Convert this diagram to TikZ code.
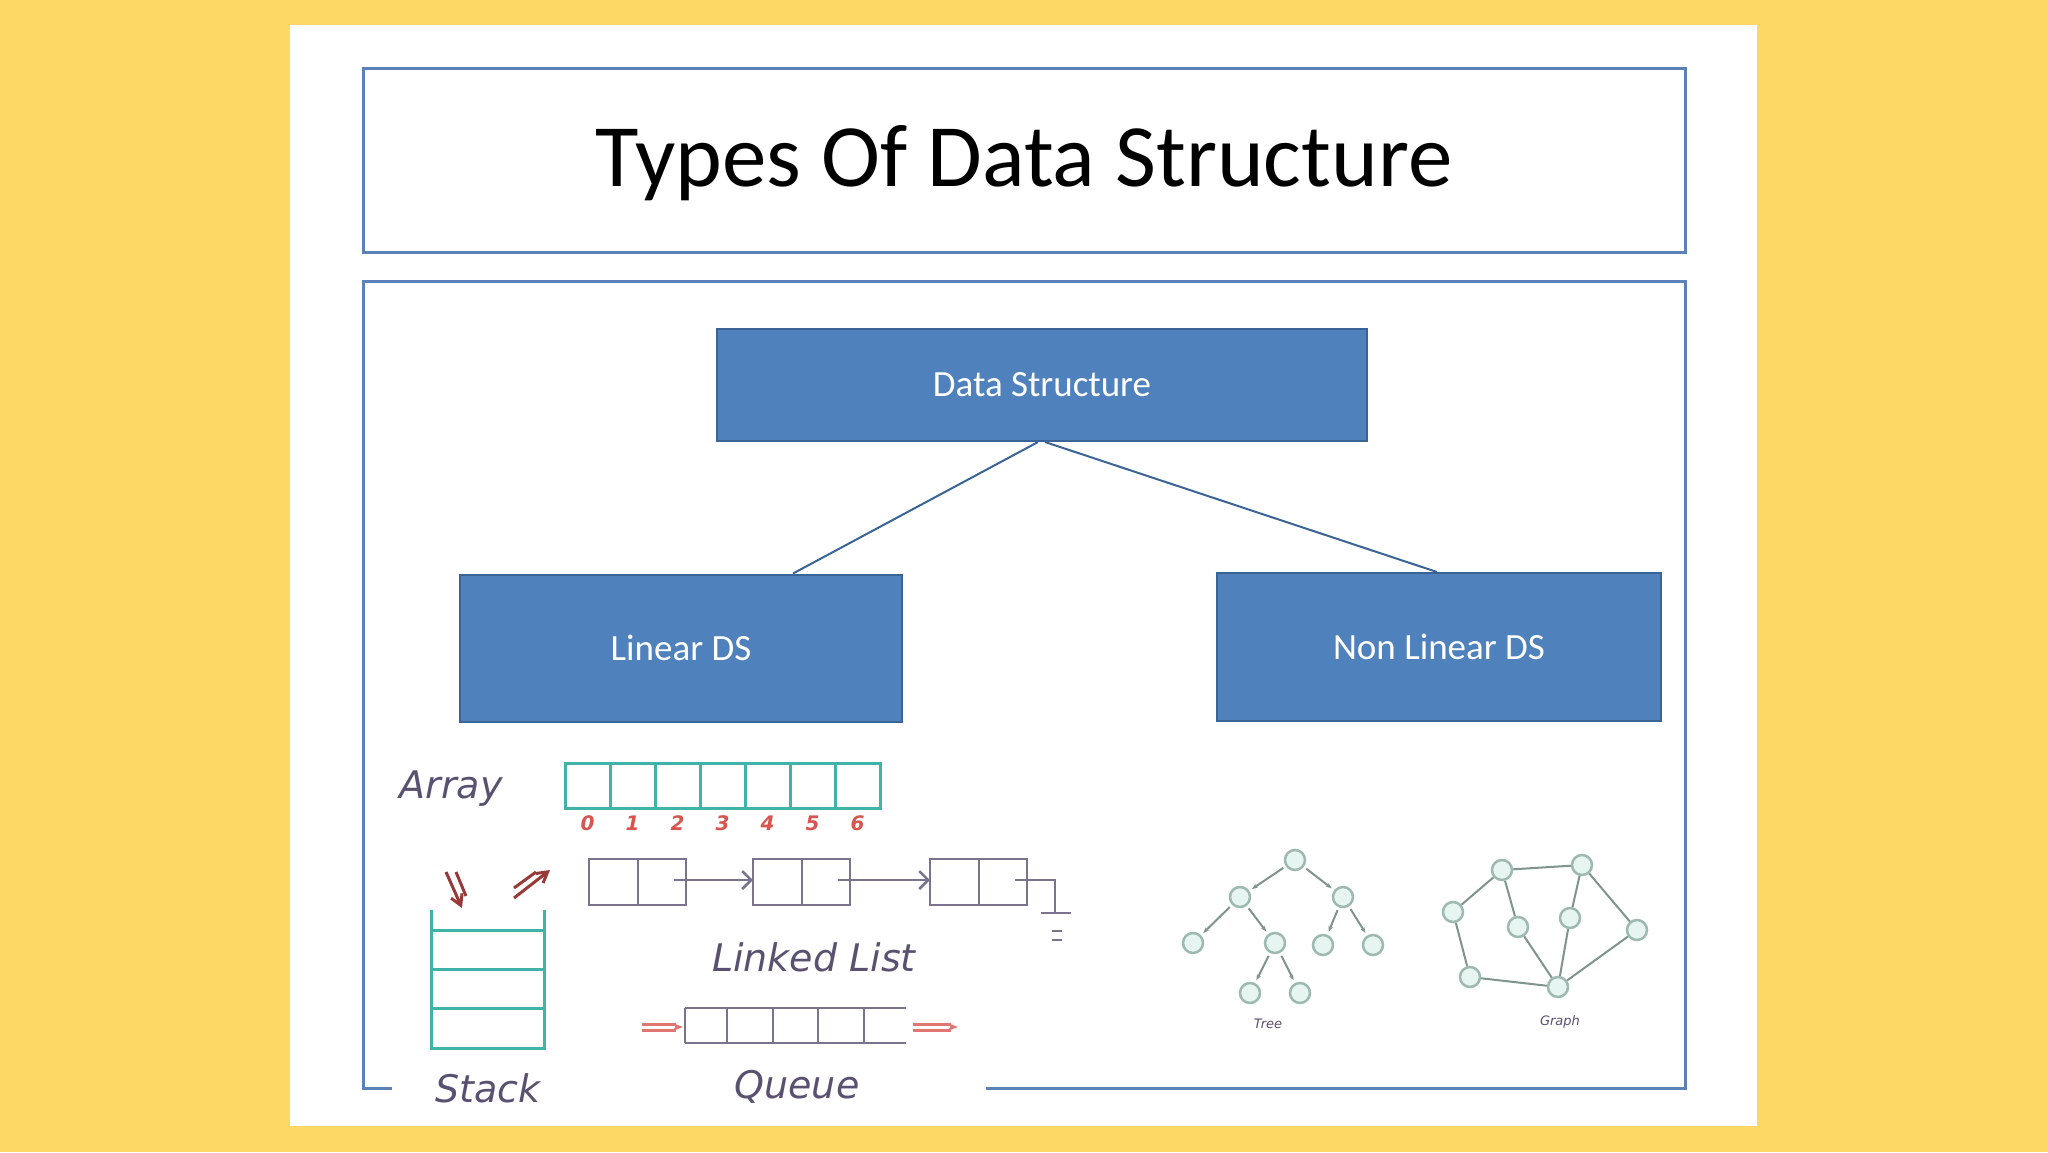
\documentclass[tikz,border=0pt]{standalone}
\usepackage{fontspec}
\setmainfont{Carlito}
\newfontfamily\hand{DejaVu Sans}
\usetikzlibrary{arrows.meta}
\definecolor{bgy}{HTML}{FDD865}
\definecolor{bfill}{HTML}{4F81BD}
\definecolor{bline}{HTML}{3A6496}
\definecolor{frame}{HTML}{5B82B8}
\definecolor{teal}{HTML}{3FB3A8}
\definecolor{ink}{HTML}{5A5070}
\definecolor{redi}{HTML}{D9534F}
\definecolor{nfill}{HTML}{E6F5F1}
\definecolor{nline}{HTML}{9DB9B0}
\tikzset{
 dsbox/.style={draw=bline,fill=bfill,line width=2pt,text=white,font=\fontsize{37}{42}\selectfont},
 hw/.style={text=ink,font=\hand\itshape\fontsize{38}{44}\selectfont},
 idx/.style={text=redi,font=\hand\itshape\bfseries\fontsize{20}{24}\selectfont},
 cn/.style={circle,draw=nline,fill=nfill,line width=2.5pt,minimum size=20pt,inner sep=0pt},
 te/.style={draw=nline!80!black,line width=2pt},
 ta/.style={te,-{Stealth[length=6pt]}},
 sk/.style={draw=ink!80,line width=2.5pt},
 tl/.style={draw=teal,line width=3pt},
 ra/.style={draw=redi!70!black,line width=3pt}
}
\begin{document}
\begin{tikzpicture}[x=1pt,y=-1pt]
\fill[bgy] (0,0) rectangle (2048,1152);
\fill[white] (290,25) rectangle (1757,1126);
\useasboundingbox (0,0) rectangle (2048,1152);
% title
\draw[frame,line width=3pt] (363,68) rectangle (1685,252);
\node (title) at (1024,163) {\fontsize{89}{98}\selectfont Types Of Data Structure};
% main frame with gap
\draw[frame,line width=3pt] (392,1088) -- (363,1088) -- (363,281) -- (1685,281) -- (1685,1088) -- (986,1088);
% boxes
\node[dsbox,minimum width=650pt,minimum height=112pt] (ds) at (1042,385) {Data Structure};
\node[dsbox,minimum width=442pt,minimum height=147pt] (lin) at (681,648) {Linear DS};
\node[dsbox,minimum width=444pt,minimum height=148pt] (nl) at (1439,647) {Non Linear DS};
\draw[bline,line width=2pt] ([xshift=-4pt]ds.south) -- ([xshift=112pt]lin.north);
\draw[bline,line width=2pt] ([xshift=3pt]ds.south) -- ([xshift=-2pt]nl.north);
% array
\node[hw,anchor=west] (arr) at (396,789) {Array};
\foreach \i in {0,...,6}{
 \draw[tl] (565+\i*45,763) rectangle (565+\i*45+45,808);
 \node[idx] (n\i) at (587.5+\i*45,823) {\i};
}
% stack
\draw[tl] (431,910) -- (431,1048) -- (544,1048) -- (544,910);
\foreach \y in {930,969,1008} \draw[tl] (431,\y) -- (544,\y);
\draw[ra,-{Straight Barb[length=12pt,angle=60:12pt]}] (446,872) -- (462,908);
\draw[ra] (456,872) -- (466,896);
\draw[ra,-{Straight Barb[length=12pt,angle=60:12pt]}] (514,898) -- (550,870);
\draw[ra] (514,888) -- (536,872);
\node[hw] (stk) at (488,1088) {Stack};
% linked list
\foreach \x/\n in {589/a,753/b,930/c}{
 \draw[sk] (\x,859) rectangle (\x+97,905);
 \draw[sk] (\x+49,859) -- (\x+49,905);
 \coordinate (\n) at (\x+85,880);
}
\coordinate (bin) at (753,880);
\coordinate (cin) at (930,880);
\draw[sk,-{Straight Barb[length=9pt]}] (a) -- (bin);
\draw[sk,-{Straight Barb[length=9pt]}] (b) -- (cin);
\draw[sk] (c) -- (1055,880) -- (1055,913);
\draw[sk] (1041,913) -- (1071,913);
\draw[sk] (1052,931) -- (1062,931);
\draw[sk] (1052,940) -- (1062,940);
\node[hw] (ll) at (814,957) {Linked List};
% queue
\draw[sk] (685,1008) -- (906,1008);
\draw[sk] (685,1043) -- (906,1043);
\foreach \x in {685,727,773,818,864} \draw[sk] (\x,1008) -- (\x,1043);
\draw[draw=redi!80,line width=3pt,-{Stealth[length=11pt]},double,double distance=3pt] (642,1027) -- (683,1027);
\draw[draw=redi!80,line width=3pt,-{Stealth[length=11pt]},double,double distance=3pt] (913,1027) -- (958,1027);
\node[hw] (que) at (797,1087) {Queue};
% tree
\node[cn] (t1) at (1295,860) {};
\node[cn] (t2) at (1240,897) {};
\node[cn] (t3) at (1343,897) {};
\node[cn] (t4) at (1193,943) {};
\node[cn] (t5) at (1275,943) {};
\node[cn] (t6) at (1323,945) {};
\node[cn] (t7) at (1373,945) {};
\node[cn] (t8) at (1250,993) {};
\node[cn] (t9) at (1300,993) {};
\foreach \p/\c in {t1/t2,t1/t3,t2/t4,t2/t5,t3/t6,t3/t7,t5/t8,t5/t9}
 \draw[ta,shorten <=3pt,shorten >=3pt] (\p) -- (\c);
\node[text=ink,font=\hand\itshape\fontsize{13}{15}\selectfont] (tl) at (1268,1024) {Tree};
% graph
\node[cn] (g1) at (1502,870) {};
\node[cn] (g2) at (1582,865) {};
\node[cn] (g3) at (1453,912) {};
\node[cn] (g4) at (1518,927) {};
\node[cn] (g5) at (1570,918) {};
\node[cn] (g6) at (1637,930) {};
\node[cn] (g7) at (1470,977) {};
\node[cn] (g8) at (1558,987) {};
\foreach \p/\c in {g1/g2,g1/g3,g1/g4,g2/g5,g2/g6,g3/g7,g7/g8,g4/g8,g5/g8,g6/g8}
 \draw[te] (\p) -- (\c);
\node[text=ink,font=\hand\itshape\fontsize{13}{15}\selectfont] (gl) at (1560,1022) {Graph};
\end{tikzpicture}
\end{document}
